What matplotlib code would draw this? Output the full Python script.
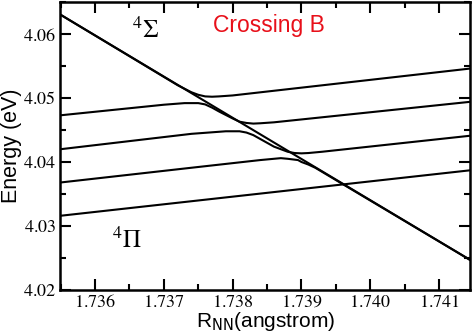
import matplotlib
matplotlib.use('Agg')
import matplotlib.pyplot as plt
from matplotlib.ticker import MultipleLocator, FormatStrFormatter

# diabatic 4Sigma line and the straight lowest 4Pi level
sigma_x = [1.7355, 1.74145]
sigma_y = [4.0630, 4.0247]
pi0_x = [1.7355, 1.74145]
pi0_y = [4.0316, 4.0387]

# adiabatic curves
a_x = [1.7355, 1.7372, 1.7374, 1.7375, 1.7376, 1.7377, 1.7378, 1.7380, 1.74145]
a_y = [4.0630, 4.0520, 4.0509, 4.0505, 4.05025, 4.0502, 4.05025, 4.0504, 4.0546]

b_x = [1.7355, 1.7370, 1.7373, 1.7375, 1.7376, 1.7377, 1.7378, 1.7380, 1.7381,
       1.7382, 1.7383, 1.7384, 1.7386, 1.74145]
b_y = [4.0473, 4.04895, 4.0492, 4.0492, 4.0490, 4.0485, 4.0479, 4.0468, 4.0463,
       4.0461, 4.0460, 4.04605, 4.0462, 4.0494]

c_x = [1.7355, 1.7374, 1.7379, 1.7381, 1.7382, 1.7383, 1.7384, 1.7386, 1.7388,
       1.7389, 1.7390, 1.7391, 1.7393, 1.74145]
c_y = [4.0420, 4.0444, 4.0448, 4.0448, 4.0446, 4.0442, 4.0436, 4.0424, 4.0416,
       4.0414, 4.04135, 4.0414, 4.0416, 4.0441]

d_x = [1.7355, 1.7374, 1.7384, 1.7387, 1.7388, 1.73895, 1.7390, 1.7391, 1.7392, 1.74145]
d_y = [4.0368, 4.0391, 4.0403, 4.0406, 4.0405, 4.0403, 4.0400, 4.0396, 4.0391, 4.0247]

plt.rcParams['font.family'] = 'serif'
plt.rcParams['font.serif'] = ['Liberation Serif', 'DejaVu Serif']
plt.rcParams['mathtext.fontset'] = 'stix'

fig = plt.figure(figsize=(4.74, 3.36), dpi=100)
ax = fig.add_axes([0.1266, 0.137, 0.865, 0.857])

lw = 1.5
ax.plot(sigma_x, sigma_y, color='black', lw=lw)
ax.plot(pi0_x, pi0_y, color='black', lw=lw)
for xs, ys in [(a_x, a_y), (b_x, b_y), (c_x, c_y), (d_x, d_y)]:
    ax.plot(xs, ys, color='black', lw=lw)

ax.set_xlim(1.73549, 1.74145)
ax.set_ylim(4.02, 4.065)
ax.xaxis.set_major_locator(MultipleLocator(0.001))
ax.xaxis.set_minor_locator(MultipleLocator(0.0005))
ax.yaxis.set_major_locator(MultipleLocator(0.01))
ax.yaxis.set_minor_locator(MultipleLocator(0.005))
# stix digits give the Times look of the original tick labels
ax.xaxis.set_major_formatter(FormatStrFormatter('$%.3f$'))
ax.yaxis.set_major_formatter(FormatStrFormatter('$%.2f$'))
ax.tick_params(which='both', direction='in', top=True, right=True, width=1.5,
               labelsize=13)
ax.tick_params(which='major', length=8, pad=3)
ax.tick_params(which='minor', length=4)
for s in ax.spines.values():
    s.set_linewidth(1.8)

ax.set_xlabel('R$_{\\mathrm{NN}}$(angstrom)', family='Liberation Sans', fontsize=15,
              math_fontfamily='dejavusans')
ax.set_ylabel('Energy (eV)', family='Liberation Sans', fontsize=15.5)
ax.xaxis.set_label_coords(0.502, -0.068)
ax.yaxis.set_label_coords(-0.093, 0.5)

ax.text(1.73654, 4.0606, '$^4\\Sigma$', fontsize=18, ha='left', va='center')
ax.text(1.73624, 4.0277, '$^4\\Pi$', fontsize=18, ha='left', va='center')
ax.text(1.73771, 4.0614, 'Crossing B', color='#e8101a', family='Liberation Sans',
        fontsize=16.5, ha='left', va='center')

fig.savefig('out.png', dpi=100)
